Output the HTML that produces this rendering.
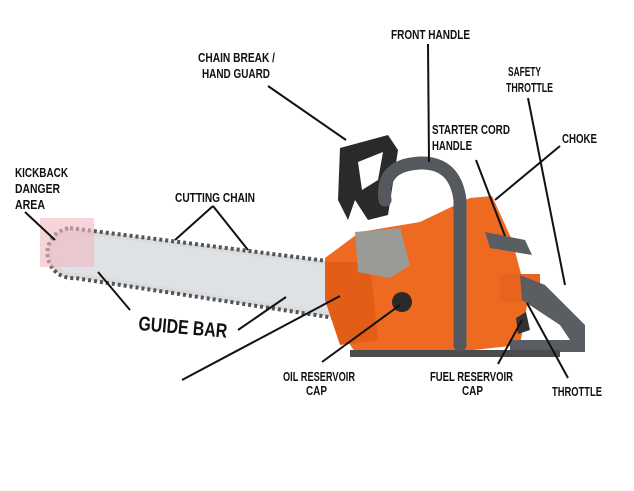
<!DOCTYPE html>
<html><head><style>
html,body{margin:0;padding:0;background:#fff;}
svg{display:block}
text{font-family:"Liberation Sans",sans-serif;font-weight:bold;fill:#111;font-size:13px;}
</style></head><body>
<svg width="634" height="491" viewBox="0 0 634 491" xmlns="http://www.w3.org/2000/svg">
<rect width="634" height="491" fill="#fff"/>
<!-- guide bar -->
<path d="M70 228 L335 262 L335 318 L75 278 A25 25 0 0 1 70 228 Z" fill="#d9dcdf" stroke="#555" stroke-width="4" stroke-dasharray="3 3"/>
<path d="M72 233 L333 266 L333 313 L76 273 A20 20 0 0 1 72 233 Z" fill="#dfe2e5"/>
<rect x="40" y="218" width="54" height="49" fill="#f2b8c0" opacity="0.6"/>
<!-- chain brake -->
<path d="M340 148 L388 135 L398 150 L388 215 L368 220 L355 200 L348 220 L338 200 Z" fill="#2a2a2a"/>
<path d="M358 162 L383 152 L378 180 L362 190 Z" fill="#fff"/>
<!-- body -->
<path d="M325 258 L360 232 L420 222 L470 198 L492 196 L512 240 L528 300 L520 345 L455 352 L355 352 L340 330 L325 300 Z" fill="#ee6a20"/>
<path d="M325 262 L370 262 L378 340 L340 345 L325 300 Z" fill="#e25d15"/>
<path d="M355 232 L400 228 L410 265 L390 278 L358 272 Z" fill="#9a9a96"/>
<rect x="500" y="274" width="40" height="28" fill="#e8641c"/>
<!-- rear handle -->
<path d="M520 275 L545 285 L585 325 L585 352 L510 352 L510 340 L570 340 L560 325 L522 300 Z" fill="#5a5d62"/>
<path d="M350 350 L560 350 L560 357 L350 357 Z" fill="#4a4c50"/>
<!-- starter handle -->
<path d="M485 232 L525 240 L532 255 L490 248 Z" fill="#5a5d62"/>
<!-- front handle -->
<path d="M385 200 Q380 165 420 163 Q455 162 460 200 L460 345" fill="none" stroke="#55585d" stroke-width="13" stroke-linecap="round"/>
<circle cx="402" cy="302" r="10" fill="#2a2a2a"/>
<path d="M516 318 L526 312 L530 330 L518 334 Z" fill="#333"/>
<!-- leader lines -->
<g stroke="#111" stroke-width="2" fill="none">
<line x1="268" y1="86" x2="346" y2="140"/>
<line x1="428" y1="44" x2="429" y2="162"/>
<line x1="528" y1="98" x2="565" y2="285"/>
<line x1="476" y1="160" x2="505" y2="236"/>
<line x1="560" y1="146" x2="495" y2="200"/>
<line x1="25" y1="212" x2="55" y2="240"/>
<line x1="213" y1="206" x2="175" y2="240"/>
<line x1="213" y1="206" x2="248" y2="250"/>
<line x1="130" y1="310" x2="98" y2="272"/>
<line x1="238" y1="330" x2="286" y2="297"/>
<line x1="182" y1="380" x2="340" y2="296"/>
<line x1="322" y1="362" x2="400" y2="305"/>
<line x1="498" y1="364" x2="522" y2="320"/>
<line x1="568" y1="378" x2="527" y2="303"/>
</g>
<!-- labels -->
<text x="198" y="62" textLength="77" lengthAdjust="spacingAndGlyphs">CHAIN BREAK /</text>
<text x="202" y="78" textLength="68" lengthAdjust="spacingAndGlyphs">HAND GUARD</text>
<text x="391" y="39" textLength="79" lengthAdjust="spacingAndGlyphs">FRONT HANDLE</text>
<text x="508" y="76" textLength="33" lengthAdjust="spacingAndGlyphs">SAFETY</text>
<text x="506" y="92" textLength="47" lengthAdjust="spacingAndGlyphs">THROTTLE</text>
<text x="432" y="134" textLength="78" lengthAdjust="spacingAndGlyphs">STARTER CORD</text>
<text x="432" y="150" textLength="40" lengthAdjust="spacingAndGlyphs">HANDLE</text>
<text x="562" y="143" textLength="35" lengthAdjust="spacingAndGlyphs">CHOKE</text>
<text x="15" y="177" textLength="53" lengthAdjust="spacingAndGlyphs">KICKBACK</text>
<text x="15" y="193" textLength="45" lengthAdjust="spacingAndGlyphs">DANGER</text>
<text x="15" y="209" textLength="30" lengthAdjust="spacingAndGlyphs">AREA</text>
<text x="175" y="202" textLength="80" lengthAdjust="spacingAndGlyphs">CUTTING CHAIN</text>
<text x="138" y="330" style="font-size:20px" textLength="89" lengthAdjust="spacingAndGlyphs" transform="rotate(5 138 330)">GUIDE BAR</text>
<text x="283" y="381" textLength="72" lengthAdjust="spacingAndGlyphs">OIL RESERVOIR</text>
<text x="306" y="395" textLength="21" lengthAdjust="spacingAndGlyphs">CAP</text>
<text x="430" y="381" textLength="83" lengthAdjust="spacingAndGlyphs">FUEL RESERVOIR</text>
<text x="462" y="395" textLength="21" lengthAdjust="spacingAndGlyphs">CAP</text>
<text x="552" y="396" textLength="50" lengthAdjust="spacingAndGlyphs">THROTTLE</text>
</svg>
</body></html>
